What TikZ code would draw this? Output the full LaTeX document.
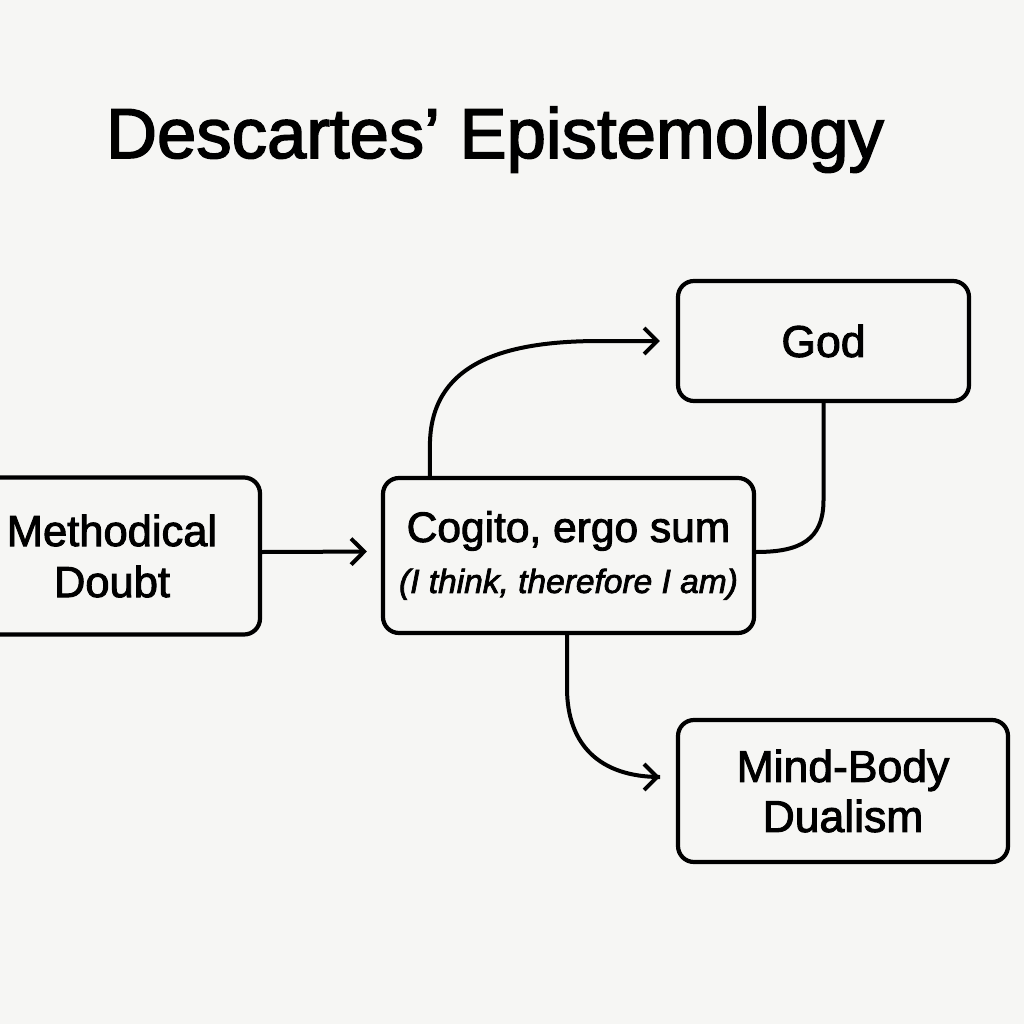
\documentclass[tikz,border=0pt]{standalone}
\usepackage{fontspec}
\setmainfont{Liberation Sans}[FakeBold=2.2]
\usetikzlibrary{arrows.meta,calc}
\definecolor{bgcol}{HTML}{F6F6F4}
\tikzset{
  box/.style={draw=black, line width=4.2pt, rounded corners=16pt, fill=bgcol, inner sep=0pt, align=center},
  conn/.style={line width=4pt, line cap=round},
  arr/.style={conn, -{Straight Barb[length=13pt,width=26pt,line width=4pt]}}
}
\begin{document}
\begin{tikzpicture}[x=1pt,y=-1pt]
\fill[bgcol] (0,0) rectangle (1024,1024);
\useasboundingbox (0,0) rectangle (1024,1024);
\clip (0,0) rectangle (1024,1024);
\node[anchor=base, font=\fontsize{70.7}{80}\selectfont] (title) at (495,158) {Descartes’ Epistemology};
\node[box, minimum width=296pt, minimum height=157pt, font=\fontsize{43.5}{51}\selectfont] (md) at (112,556) {Methodical\\Doubt};
\node[box, minimum width=371pt, minimum height=155pt, font=\fontsize{42.5}{51}\selectfont] (cog) at (568.5,555.5) {Cogito, ergo sum\\{\fontsize{33.5}{51}\selectfont\itshape (I think, therefore I am)}};
\node[box, minimum width=291pt, minimum height=120pt, font=\fontsize{44.5}{50}\selectfont] (god) at (823.5,341) {God};
\node[box, minimum width=330pt, minimum height=142pt, font=\fontsize{44.5}{50}\selectfont] (mbd) at (843,791) {Mind-Body\\Dualism};
% connectors
\draw[arr, shorten >=14pt] ($(md.east)+(0,-4)$) -- ($(cog.west)+(0,-4)$);
\draw[arr, shorten >=16pt] ($(cog.north west)+(49,0)$) -- ++(0,-30) .. controls (430,365) and (500,341) .. (600,341) -- (god.west |- 0,341);
\draw[conn] (god.south) -- (823.5,500) .. controls (823.5,540) and (800,552) .. (cog.east |- 0,552);
\draw[arr, shorten >=16pt] (cog.south -| 567,0) -- (567,688) .. controls (567,745) and (600,777) .. (660,777) -- (mbd.west |- 0,777);
\end{tikzpicture}
\end{document}
